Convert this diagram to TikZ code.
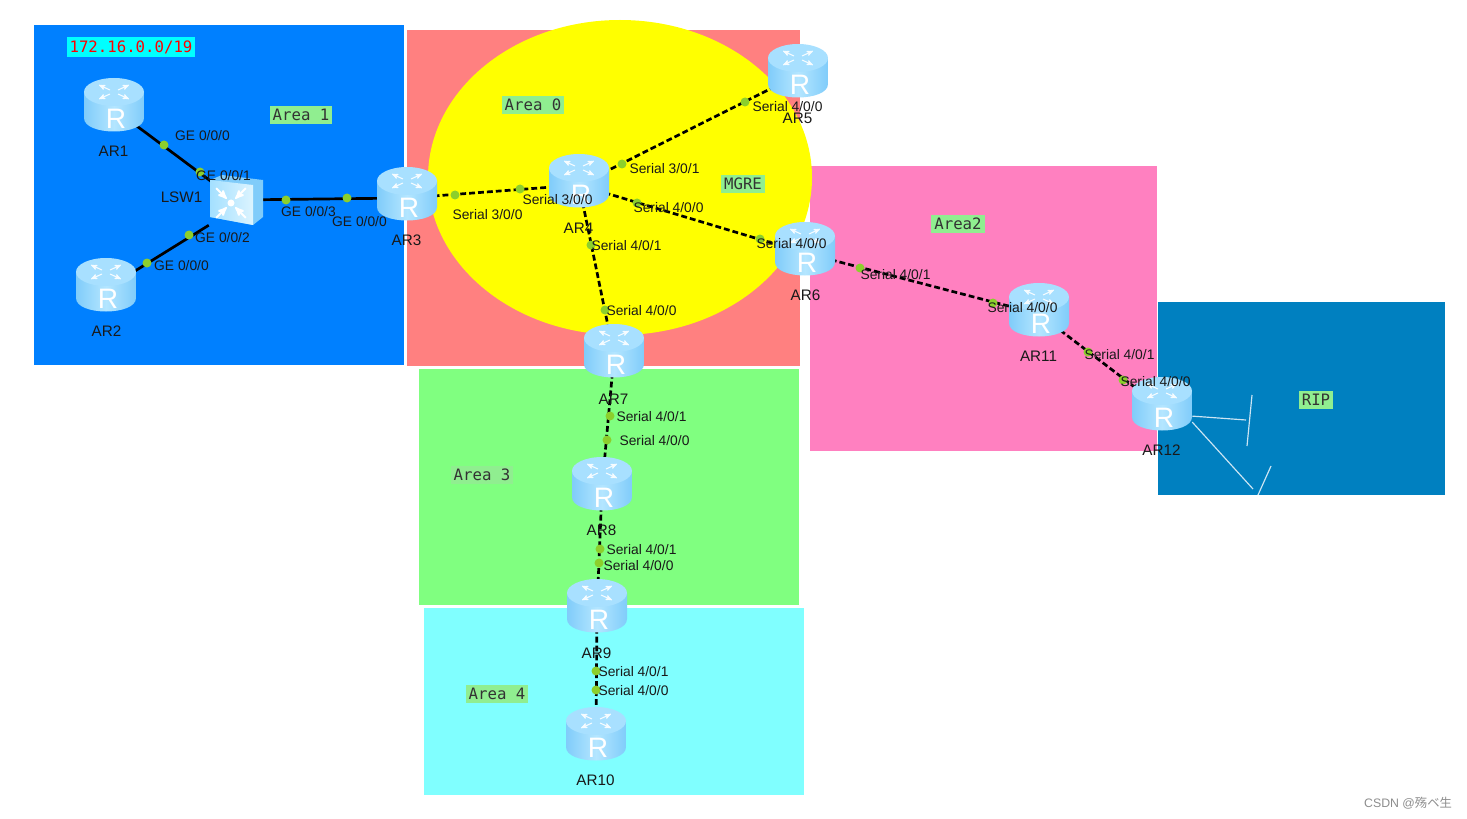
\documentclass[tikz,border=0pt]{standalone}
\usepackage{fontspec}
\setmainfont{Liberation Sans}
\setmonofont{DejaVu Sans Mono}
\newfontfamily\cjkfont{Noto Sans CJK SC}
\definecolor{colorAreaOne}{HTML}{0080FF}
\definecolor{colorAreaZero}{HTML}{FF8080}
\definecolor{colorAreaTwo}{HTML}{FF80C0}
\definecolor{colorAreaThree}{HTML}{80FF80}
\definecolor{colorAreaFour}{HTML}{80FFFF}
\definecolor{colorRip}{HTML}{0080C0}
\definecolor{colorMgre}{HTML}{FFFF00}
\definecolor{colorTag}{HTML}{90EE90}
\definecolor{colorNetBox}{HTML}{00FFFF}
\definecolor{colorNetText}{HTML}{FF0000}
\definecolor{colorPort}{HTML}{8CCF2C}
\definecolor{colorBodySide}{HTML}{80CCFA}
\definecolor{colorBodyMid}{HTML}{B4E6FF}
\definecolor{colorTop}{HTML}{A8E0FF}
\definecolor{colorFront}{HTML}{A4E0FF}
\definecolor{colorFrontPale}{HTML}{DCF4FF}
\usepackage{tikz}
\usetikzlibrary{arrows, backgrounds}
\tikzset{
  router/.style={rectangle, inner sep=0pt, minimum width=1.8cm, minimum height=1.86cm,
    label={[white, xshift=.06cm, yshift=-.3cm, font=\fontsize{24}{24}\selectfont]center:R},
    path picture={
      \begin{scope}[shift={(path picture bounding box.center)}]
      \shade[left color=colorBodySide, right color=colorBodySide, middle color=colorBodyMid]
        (-30,-17) -- (-30,9) .. controls (-30,27) and (30,27) .. (30,9) -- (30,-17) -- cycle;
      \fill[colorTop] (0,-17) ellipse [x radius=30, y radius=14];
      \foreach \sx/\sy in {1/1,-1/1,1/-1,-1/-1}
        \draw[white!90!colorTop, line width=.9pt, ->] (\sx*4,-17+\sy*2) -- (\sx*15,-17+\sy*7);
      \end{scope}
    }},
  switchbox/.style={rectangle, inner sep=0pt, minimum width=1.62cm, minimum height=1.5cm,
    path picture={
      \begin{scope}[shift={(path picture bounding box.center)}]
      \fill[colorBodySide] (-14,-25) -- (27,-20) -- (27,17) -- (17,25) -- (-26,17) -- (-26,-20) -- cycle;
      \shade[left color=colorFront, right color=colorFrontPale]
        (-26,-20) -- (17,-15) -- (17,25) -- (-26,17) -- cycle;
      \foreach \a in {45,135,225,315}
        \draw[white, line width=1.6pt, <-] (-5,3) ++(\a:6) -- ++(\a:15);
      \fill[white] (-5,3) circle [radius=3.5];
      \end{scope}
    }},
  ge/.style={black, line width=2.3pt},
  serial/.style={black, line width=2.3pt, dash pattern=on 5pt off 2.6pt},
  ripline/.style={white!80!colorRip, line width=1pt},
  portDot/.style={circle, fill=colorPort, inner sep=0pt, minimum size=.27cm},
  portLabel/.style={text=black!90, inner sep=0pt, xshift=.015cm, yshift=-.03cm, font=\fontsize{11.8}{14}\selectfont},
  nameLabel/.style={text=black!90, inner sep=0pt, xshift=.015cm, yshift=-.03cm, font=\fontsize{13}{15}\selectfont},
  areaTag/.style={fill=colorTag, text=black!80, inner sep=.09cm, font=\ttfamily\fontsize{13.4}{15}\selectfont},
}

\begin{document}
\begin{tikzpicture}[x=.03cm, y=-.03cm, >=stealth']
\useasboundingbox (0,0) rectangle (1467,819);
% the coloured regions
\begin{scope}[on background layer]
\fill[colorAreaOne] (34,25) rectangle (404,365);
\fill[colorAreaZero] (407,30) rectangle (800,366);
\fill[colorAreaTwo] (810,166) rectangle (1157,451);
\fill[colorAreaThree] (419,369) rectangle (799,605);
\fill[colorAreaFour] (424,608) rectangle (804,795);
\fill[colorRip] (1158,302) rectangle (1445,495);
\fill[colorMgre] (620,177.5) ellipse [x radius=192, y radius=157.5];
\end{scope}
% devices
\node[router] (AR1) at (114,109) {};
\node[router] (AR2) at (106,289) {};
\node[router] (AR3) at (407,198) {};
\node[router] (AR4) at (579,185) {};
\node[router] (AR5) at (798,75) {};
\node[router] (AR6) at (805,253) {};
\node[router] (AR7) at (614,355) {};
\node[router] (AR8) at (602,488) {};
\node[router] (AR9) at (597,610) {};
\node[router] (AR10) at (596,738) {};
\node[router] (AR11) at (1039,314) {};
\node[router] (AR12) at (1162,408) {};
\node[switchbox] (LSW1) at (236,200) {};
\coordinate (ripA) at (1246,420);
\coordinate (ripB) at (1252,395);
\coordinate (ripC) at (1247,446);
\coordinate (ripD) at (1253,489);
\coordinate (ripE) at (1271,466);
\coordinate (ripF) at (1258,495);
% links
\begin{scope}[on background layer]
\draw[ge] (AR1.center) -- (LSW1.center);
\draw[ge] (AR2.center) -- (LSW1.south west);
\draw[ge] (LSW1.center) -- (AR3.center);
\draw[serial] (AR3.center) -- (AR4.center);
\draw[serial] (AR4.center) -- (AR5.center);
\draw[serial] (AR4.center) -- (AR6.center);
\draw[serial] (AR4.center) -- (AR7.center);
\draw[serial] (AR7.center) -- (AR8.center);
\draw[serial] (AR8.center) -- (AR9.center);
\draw[serial] (AR9.center) -- (AR10.center);
\draw[serial] (AR6.center) -- (AR11.center);
\draw[serial] (AR11.center) -- (AR12.center);
\draw[ripline] (AR12.-15) -- (ripA);
\draw[ripline] (ripB) -- (ripC);
\draw[ripline] (AR12.-25) -- (ripD);
\draw[ripline] (ripE) -- (ripF);
\end{scope}
% port dots
\node[portDot] (d1) at (164,145) {};
\node[portDot] (d2) at (200,172) {};
\node[portDot] (d3) at (147,263) {};
\node[portDot] (d4) at (189,235) {};
\node[portDot] (d5) at (286,200) {};
\node[portDot] (d6) at (347,198) {};
\node[portDot] (d7) at (455,195) {};
\node[portDot] (d8) at (520,189) {};
\node[portDot] (d9) at (622,164) {};
\node[portDot] (d10) at (745,102) {};
\node[portDot] (d11) at (637,203) {};
\node[portDot] (d12) at (760,239) {};
\node[portDot] (d13) at (591,245) {};
\node[portDot] (d14) at (605,310) {};
\node[portDot] (d15) at (610,416) {};
\node[portDot] (d16) at (607,440) {};
\node[portDot] (d17) at (600,549) {};
\node[portDot] (d18) at (599,563) {};
\node[portDot] (d19) at (596,671) {};
\node[portDot] (d20) at (596,690) {};
\node[portDot] (d21) at (860,268) {};
\node[portDot] (d22) at (993,303) {};
\node[portDot] (d23) at (1088,352) {};
\node[portDot] (d24) at (1123,380) {};
% device names
\node[nameLabel] (nAR1) at (113,150) {AR1};
\node[nameLabel] (nAR2) at (106,330) {AR2};
\node[nameLabel] (nLSW1) at (181,196) {LSW1};
\node[nameLabel] (nAR3) at (406,239) {AR3};
\node[nameLabel] (nAR4) at (578,227) {AR4};
\node[nameLabel] (nAR5) at (797,117) {AR5};
\node[nameLabel] (nAR6) at (805,294) {AR6};
\node[nameLabel] (nAR7) at (613,398) {AR7};
\node[nameLabel] (nAR8) at (601,529) {AR8};
\node[nameLabel] (nAR9) at (596,652) {AR9};
\node[nameLabel] (nAR10) at (595,779) {AR10};
\node[nameLabel] (nAR11) at (1038,355) {AR11};
\node[nameLabel] (nAR12) at (1161,449) {AR12};
% port names
\node[portLabel] (p1) at (202,135) {GE 0/0/0};
\node[portLabel] (p2) at (223,175) {GE 0/0/1};
\node[portLabel] (p3) at (308,211) {GE 0/0/3};
\node[portLabel] (p4) at (359,221) {GE 0/0/0};
\node[portLabel] (p5) at (222,237) {GE 0/0/2};
\node[portLabel] (p6) at (181,265) {GE 0/0/0};
\node[portLabel] (p7) at (487,214) {Serial 3/0/0};
\node[portLabel] (p8) at (557,199) {Serial 3/0/0};
\node[portLabel] (p9) at (664,168) {Serial 3/0/1};
\node[portLabel] (p10) at (787,106) {Serial 4/0/0};
\node[portLabel] (p11) at (668,207) {Serial 4/0/0};
\node[portLabel] (p12) at (791,243) {Serial 4/0/0};
\node[portLabel] (p13) at (626,245) {Serial 4/0/1};
\node[portLabel] (p14) at (641,310) {Serial 4/0/0};
\node[portLabel] (p15) at (651,416) {Serial 4/0/1};
\node[portLabel] (p16) at (654,440) {Serial 4/0/0};
\node[portLabel] (p17) at (641,549) {Serial 4/0/1};
\node[portLabel] (p18) at (638,565) {Serial 4/0/0};
\node[portLabel] (p19) at (633,671) {Serial 4/0/1};
\node[portLabel] (p20) at (633,690) {Serial 4/0/0};
\node[portLabel] (p21) at (895,274) {Serial 4/0/1};
\node[portLabel] (p22) at (1022,307) {Serial 4/0/0};
\node[portLabel] (p23) at (1119,354) {Serial 4/0/1};
\node[portLabel] (p24) at (1155,381) {Serial 4/0/0};
% area tags
\node[areaTag, fill=colorNetBox, text=colorNetText] (net) at (131,47) {172.16.0.0/19};
\node[areaTag] (area1) at (301,115) {Area 1};
\node[areaTag] (area0) at (533,105) {Area 0};
\node[areaTag] (mgre) at (743,184) {MGRE};
\node[areaTag] (area2) at (958,224) {Area2};
\node[areaTag] (area3) at (482,475) {Area 3};
\node[areaTag] (area4) at (497,694) {Area 4};
\node[areaTag] (rip) at (1316,400) {RIP};
\node[text=black!45, inner sep=0pt, font=\fontsize{10.5}{12}\selectfont] (mark) at (1408,803) {CSDN @{\cjkfont 殇ベ生}};
\end{tikzpicture}
\end{document}
